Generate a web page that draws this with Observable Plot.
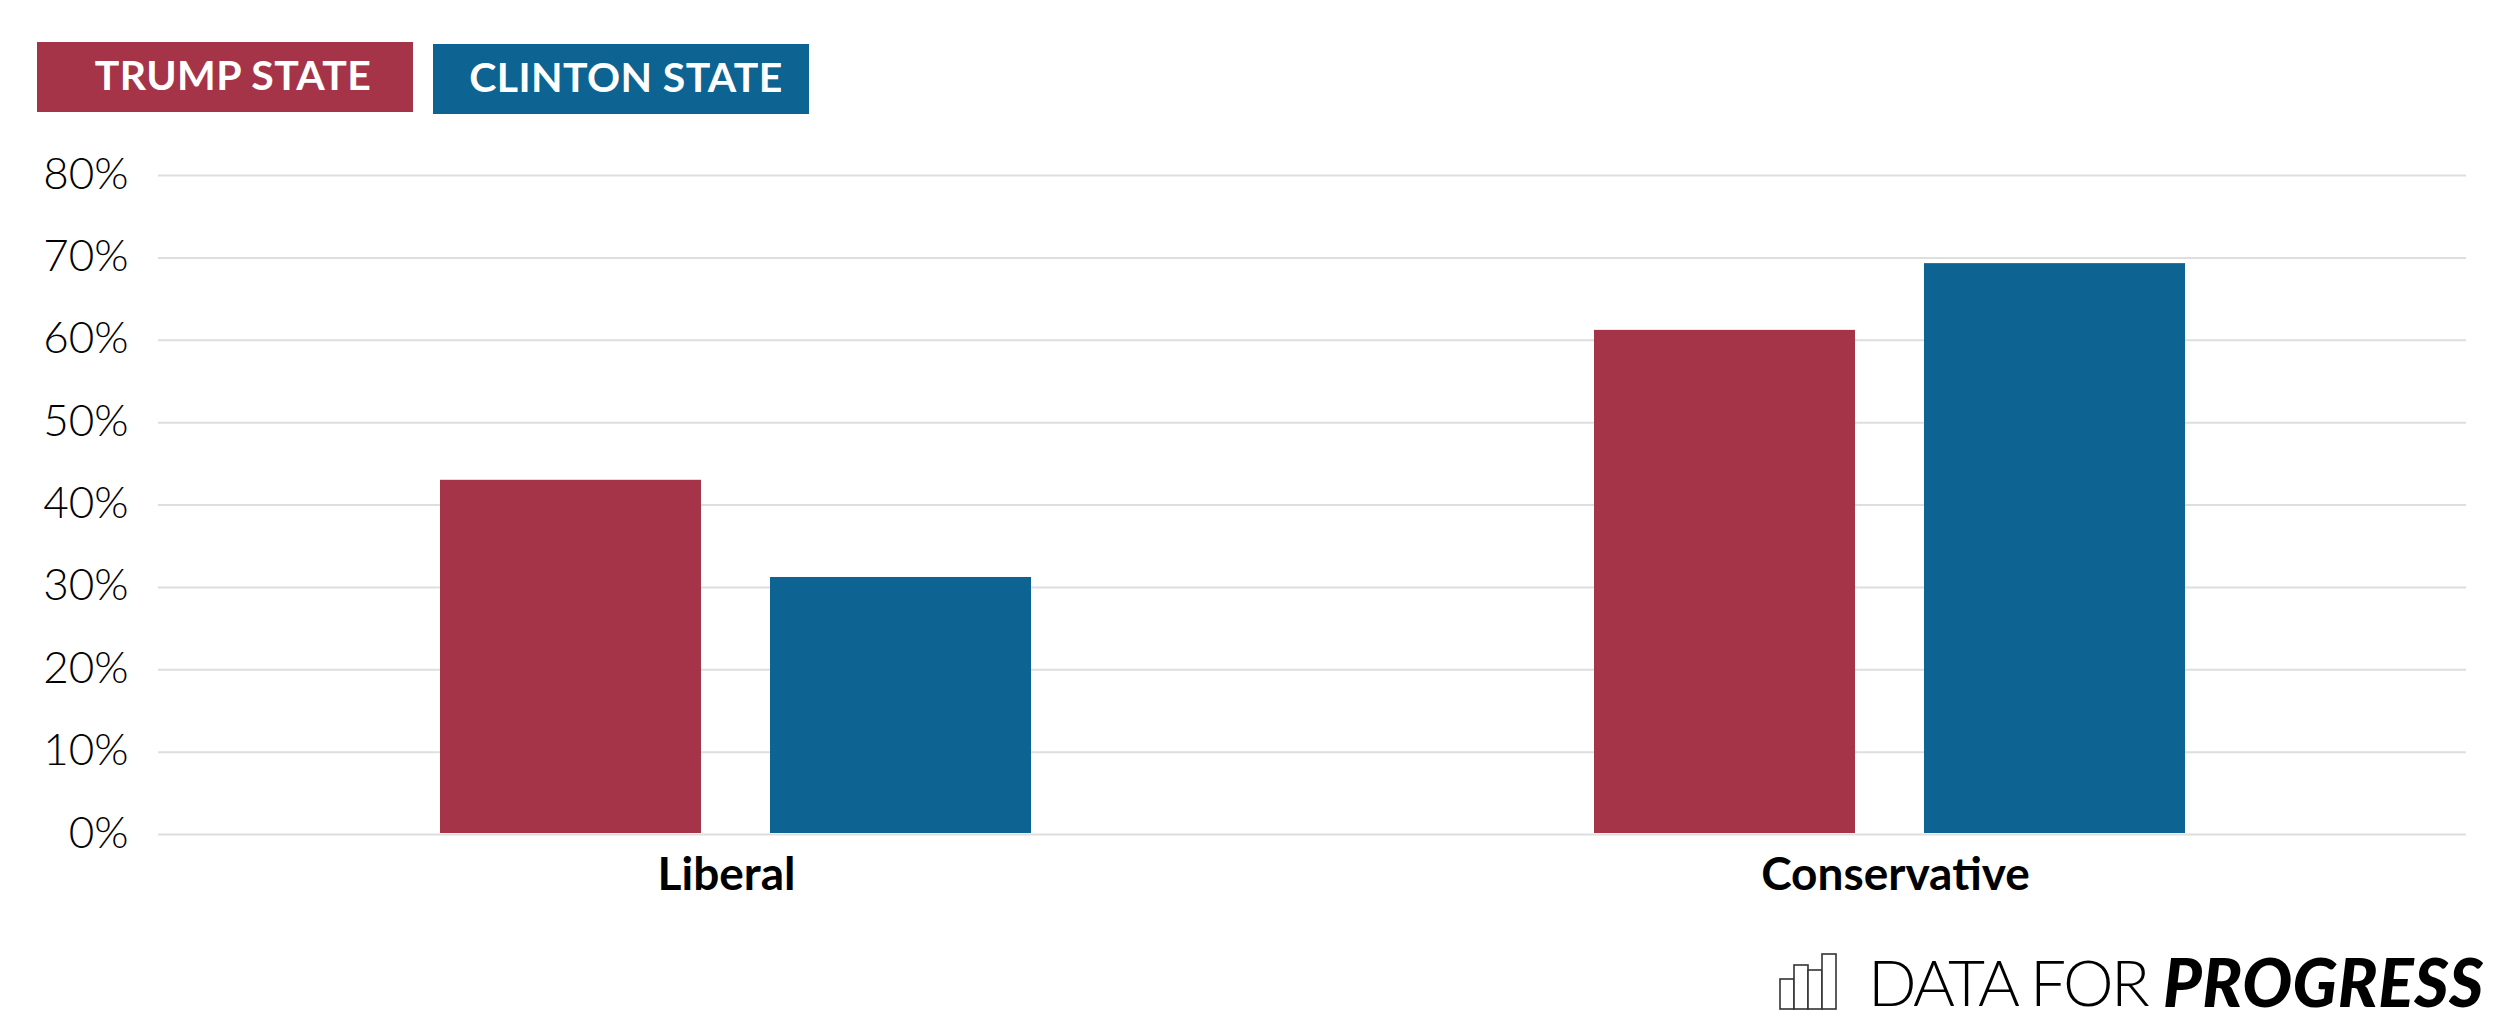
<!DOCTYPE html>
<html><head><meta charset="utf-8">
<script src="https://cdn.jsdelivr.net/npm/d3@7"></script>
<script src="https://cdn.jsdelivr.net/npm/@observablehq/plot@0.6"></script>
<style>
html,body{margin:0;padding:0;background:#fff;width:2500px;height:1020px;overflow:hidden;font-family:Lato,sans-serif}
#legend{position:relative;height:100px}
.key{position:absolute;width:376px;height:70px;line-height:65px;color:#fff;font-weight:700;font-size:41px;text-align:center;letter-spacing:0.4px;white-space:nowrap}
#chart svg{display:block}
#logo{position:absolute;left:1779px;top:950px;height:62px;white-space:nowrap}
#logo svg{position:absolute;left:0;top:3px}
#logo span{position:absolute;top:-7px;line-height:78px;color:#000}
</style></head><body>
<div id="legend"></div>
<div id="chart"></div>
<div id="logo">
<svg width="58" height="58" fill="#fff" stroke="#333" stroke-width="1.6"><rect x="1" y="26" width="14" height="30"/><rect x="15" y="12" width="14" height="44"/><rect x="29" y="17" width="14" height="39"/><rect x="43" y="1" width="14" height="55"/></svg>
<span style="left:89px;font-size:64px;font-weight:300;letter-spacing:-2.6px">DATA FOR</span>
<span style="left:384px;font-size:66px;font-weight:900;font-style:italic;letter-spacing:0.5px">PROGRESS</span>
</div>
<script>
const categories = ["Liberal", "Conservative"];
const states = ["TRUMP STATE", "CLINTON STATE"];
const colors = ["#A53448", "#0D6391"];
const trumpValues = [43, 61.2];
const clintonValues = [31.2, 69.3];
const yTicks = [0, 10, 20, 30, 40, 50, 60, 70, 80];

const rows = categories.flatMap((category, i) => [
  {category, state: states[0], value: trumpValues[i]},
  {category, state: states[1], value: clintonValues[i]}
]);

const legend = document.getElementById("legend");
[[37, 42, 16], [433, 44, 10]].forEach(([left, top, pad], i) => {
  const d = document.createElement("div");
  d.className = "key";
  d.style.left = left + "px";
  d.style.top = top + "px";
  d.style.background = colors[i];
  d.style.textIndent = pad + "px";
  d.textContent = states[i];
  legend.appendChild(d);
});

const chart = Plot.plot({
  width: 2500, height: 820,
  marginTop: 75, marginBottom: 86, marginLeft: 158, marginRight: 34,
  style: {fontFamily: "Lato, sans-serif", background: "#fff"},
  x: {domain: states, axis: null, paddingInner: 0.21, paddingOuter: 0.85},
  y: {domain: [0, 80], ticks: yTicks, label: null},
  fx: {domain: categories, padding: 0, label: null},
  color: {domain: states, range: colors},
  marks: [
    Plot.ruleY(yTicks, {stroke: "#dedede", strokeWidth: 2}),
    Plot.barY(rows, {fx: "category", x: "state", y: "value", fill: "state", insetBottom: 1}),
    Plot.axisY({ticks: yTicks, tickSize: 0, tickPadding: 30, dy: -1, tickFormat: d => d + "%", label: null, fontSize: 44, fontWeight: 300, fill: "#000"}),
    Plot.axisFx({ticks: ["Liberal"], dx: -9, anchor: "bottom", tickSize: 0, tickPadding: 23, label: null, fontSize: 46, fontWeight: 700, fill: "#000"}),
    Plot.axisFx({ticks: ["Conservative"], dx: 6, anchor: "bottom", tickSize: 0, tickPadding: 23, label: null, fontSize: 46, fontWeight: 700, fill: "#000"})
  ]
});
document.getElementById("chart").appendChild(chart);
</script>
</body></html>
